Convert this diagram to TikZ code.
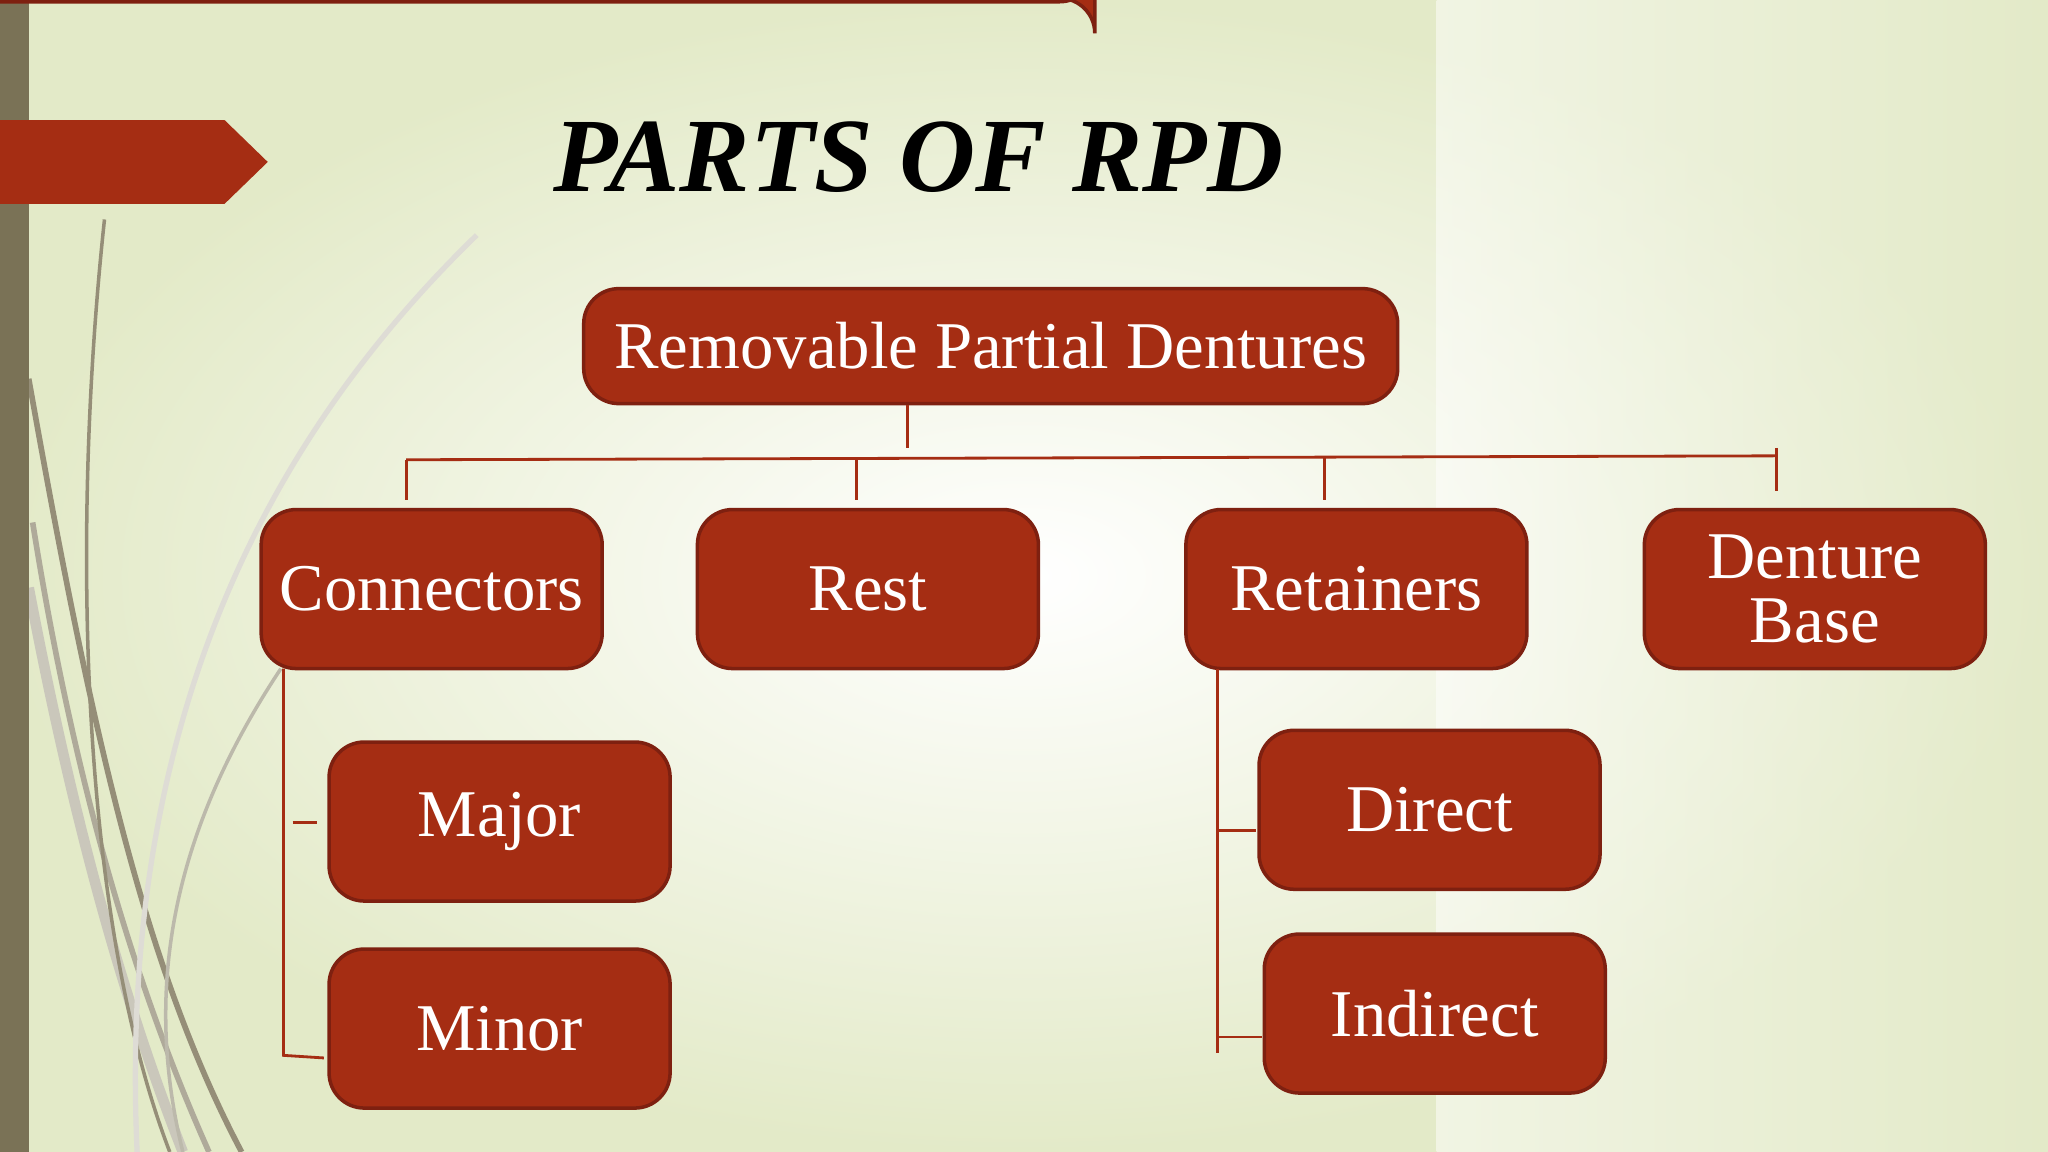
\documentclass[tikz,border=0pt]{standalone}
\usepackage{fontspec}
\setmainfont{Liberation Serif}
\definecolor{brick}{HTML}{A52D13}
\definecolor{brickline}{HTML}{7E2010}
\definecolor{olive}{HTML}{7A7256}
\definecolor{bgedge}{HTML}{E3EAC8}
\tikzset{
  part/.style={draw=brickline, line width=1pt, fill=brick, rounded corners=10pt,
    text=white, font=\fontsize{19}{21}\selectfont, align=center, inner sep=0pt},
  tree/.style={draw=brick, line width=0.8pt},
  deco/.style={draw=olive!80, line width=1.6pt},
}
\begin{document}
\begin{tikzpicture}[x=0.013061cm, y=-0.013061cm]
\useasboundingbox (0,0) rectangle (1568,882);
% background
\shade[inner color=white, outer color=bgedge] (0,0) rectangle (1568,882);
\shade[left color=white!0, right color=bgedge, opacity=0.5] (1100,0) rectangle (1568,882);
% decorative curves
\draw[deco] (22,290) .. controls (70,560) and (110,740) .. (185,882);
\draw[deco, olive!60] (25,400) .. controls (60,620) and (110,770) .. (160,882);
\draw[deco, olive!40, line width=3pt] (22,450) .. controls (60,650) and (100,780) .. (140,882);
\draw[deco, line width=1pt] (80,168) .. controls (55,400) and (60,700) .. (130,882);
\draw[deco, olive!50, line width=1pt] (215,512) .. controls (130,640) and (110,760) .. (140,882);
\draw[olive!25, line width=1.5pt] (365,180) .. controls (200,340) and (90,560) .. (105,882);
% left bar
\fill[olive] (0,0) rectangle (22,882);
% banner
\fill[brick] (0,92) -- (172,92) -- (205,124) -- (172,156) -- (0,156) -- cycle;
% title
\node[font=\fontsize{30}{34}\selectfont\bfseries\itshape] (title) at (703,120) {PARTS OF RPD};
% boxes
\node[part, minimum width=623\pgflinewidth] at (0,0) {};
\node[part, minimum width=8.14cm, minimum height=1.15cm] (root) at (758.5,265) {Removable Partial Dentures};
\foreach \n/\x/\y/\t in {con/330.5/451/Connectors, rest/664.5/451/Rest, ret/1038.5/451/Retainers,
   base/1389.5/451/{Denture\\[-3pt]Base}, maj/382.5/629/Major, min/382.5/787.5/Minor,
   dir/1094.5/620/Direct, ind/1098.5/776/Indirect}
  \node[part, minimum width=3.41cm, minimum height=1.59cm] (\n) at (\x,\y) {\t};
% tree lines
\coordinate (j) at (695,343);
\draw[tree] (root.south -| j) -- (j);
\draw[tree] (311,352) -- (1360,349);
\draw[tree] (311,352) -- (311,383);
\draw[tree] (656,351) -- (656,383);
\draw[tree] (1014,350) -- (1014,383);
\draw[tree] (1360,343) -- (1360,376);
\coordinate (cl) at (217,512);
\draw[tree] (cl) -- (217,808) -- (248,810);
\draw[tree] (224,630) -- (243,630);
\coordinate (rl) at (932,512);
\draw[tree] (rl) -- (932,806);
\draw[tree] (932,636) -- (962,636);
\draw[tree] (932,794) -- (966,794);
\end{tikzpicture}
\end{document}
